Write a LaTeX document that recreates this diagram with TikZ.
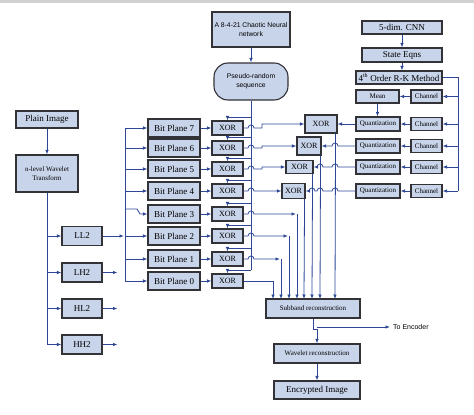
\documentclass[tikz,border=0pt]{standalone}
\usepackage{fontspec}
\setmainfont{Liberation Serif}
\newfontfamily\sansf{Liberation Sans}
\usetikzlibrary{arrows.meta}
\definecolor{boxfill}{RGB}{200,212,234}
\definecolor{lblue}{RGB}{45,70,150}
\definecolor{bord}{RGB}{50,50,55}
\begin{document}
\begin{tikzpicture}[x=1pt,y=-1pt,
  box/.style={draw=bord,line width=1.1pt,fill=boxfill,inner sep=0pt,align=center,font=\fontsize{9}{10}\selectfont},
  sm/.style={font=\fontsize{7}{8.5}\selectfont},
  xorf/.style={font=\fontsize{8}{9}\selectfont},
  sansbox/.style={font=\sansf\fontsize{6.8}{9}\selectfont},
  ln/.style={draw=lblue,line width=0.8pt},
  arr/.style={ln,-{Latex[length=4.5pt,width=3.5pt]}},
  hop/.style={}
]
\useasboundingbox (0,0) rectangle (474,415);
\fill[black!18] (0,0) rectangle (474,3);

% ---- chaotic network
\node[box,sansbox,minimum width=78pt,minimum height=35pt] (cnnet) at (251,29.5) {A 8-4-21 Chaotic Neural\\network};
\node[box,sansbox,rounded corners=14pt,minimum width=74pt,minimum height=37pt] (pr) at (251,81.5) {Pseudo-random\\sequence};
\draw[arr] (cnnet) -- (pr);
\draw[ln] (pr.south) -- (251,270);

% ---- right column
\node[box,minimum width=80pt,minimum height=13pt] (cnn) at (402,27.5) {5-dim. CNN};
\node[box,minimum width=80pt,minimum height=14pt] (st) at (402,55) {State Eqns};
\node[box,minimum width=86pt,minimum height=13pt] (rk) at (399,77.5) {4\textsuperscript{th} Order R-K Method};
\draw[arr] (cnn) -- (st);
\draw[arr] (st.south) -- (st.south |- rk.north);
\node[box,sm,minimum width=43pt,minimum height=13pt] (mean) at (377.5,96.5) {Mean};
\node[box,sm,minimum width=31pt,minimum height=13pt] (chm) at (426.5,96.5) {Channel};
\draw[arr] (chm) -- (mean);
\draw[ln] (rk.east) -- (458,77.5) -- (458,191);
\draw[arr] (458,96.5) -- (chm);
\foreach \i/\y in {7/124,6/146,5/167,4/191}{
  \node[box,sm,minimum width=44pt,minimum height=14pt] (q\i) at (378,\y) {Quantization};
  \node[box,sm,minimum width=31pt,minimum height=13pt] (c\i) at (426.5,\y) {Channel};
  \draw[arr] (c\i) -- (q\i);
  \draw[arr] (458,\y) -- (c\i);
}
\draw[arr] (mean.south) -- (mean.south |- q7.north);

% ---- second-level XORs
\node[box,xorf,minimum width=32pt,minimum height=18pt] (xa) at (321,124) {XOR};
\node[box,xorf,minimum width=24pt,minimum height=18pt] (xb) at (309,146) {XOR};
\node[box,xorf,minimum width=27pt,minimum height=13pt] (xc) at (299.5,167) {XOR};
\node[box,xorf,minimum width=23pt,minimum height=15pt] (xd) at (293.5,191) {XOR};
\draw[arr] (q7.west) -- (xa.east);
\draw[arr] (q6.west) -- (338,146) arc[start angle=0,end angle=180,radius=3pt] -- (xb.east);
\draw[arr] (q5.west) -- (338,167) arc[start angle=0,end angle=180,radius=3pt]
  -- (323,167) arc[start angle=0,end angle=180,radius=3pt] -- (xc.east);
\draw[arr] (q4.west) -- (338,191) arc[start angle=0,end angle=180,radius=3pt]
  -- (323,191) arc[start angle=0,end angle=180,radius=3pt]
  -- (315,191) arc[start angle=0,end angle=180,radius=3pt] -- (xd.east);

% ---- left column
\node[box,minimum width=62pt,minimum height=17pt] (pi) at (47,119.5) {Plain Image};
\node[box,sm,minimum width=62pt,minimum height=37pt] (wt) at (47,173.5) {n-level Wavelet\\Transform};
\draw[arr] (pi) -- (wt);
\draw[ln] (wt.south) -- (47,344.5);
\foreach \n/\t/\y in {ll/LL2/236,lh/LH2/272.5,hl/HL2/308.5,hh/HH2/344.5}{
  \node[box,minimum width=40pt,minimum height=19pt] (\n) at (82,\y) {\t};
  \draw[arr] (47,\y) -- (\n.west);
}
\foreach \n in {lh,hl,hh}{\draw[arr] (\n.east) -- ++(15,0);}
\draw[arr] (ll.east) -- (124,236);
\draw[ln] (125,128) -- (125,281);

% ---- bit planes and first-level XORs
\foreach \i/\y in {7/128,6/148,5/169,4/191,3/214,2/236,1/259,0/281}{
  \node[box,minimum width=52pt,minimum height=18pt] (bp\i) at (174,\y) {Bit Plane \i};
  \node[box,xorf,minimum width=31pt,minimum height=14pt] (x\i) at (227.5,\y) {XOR};
  \draw[arr] (bp\i) -- (x\i);
  \draw[arr] (251,\y-11) -- (227.5,\y-11) -- (x\i.north);
}
\foreach \i/\y in {7/128,6/148,5/169,4/191,2/236,1/259,0/281}{
  \draw[arr] (125,\y) -- (bp\i.west);
}
\draw[arr] (125,209) -- (137,209) -- (140,214) -- (bp3.west);

% ---- outputs of first-level XORs
\draw[arr] (x7.east) -- (248,128) arc[start angle=180,end angle=0,radius=3pt] -- (262,128) -- (262,124) -- (xa.west);
\draw[arr] (x6.east) -- (248,148) arc[start angle=180,end angle=0,radius=3pt] -- (262,148) -- (262,146) -- (xb.west);
\draw[arr] (x5.east) -- (248,169) arc[start angle=180,end angle=0,radius=3pt] -- (262,169) -- (262,167) -- (xc.west);
\draw[arr] (x4.east) -- (248,191) arc[start angle=180,end angle=0,radius=3pt] -- (xd.west);

% ---- subband reconstruction
\node[box,sm,minimum width=94pt,minimum height=19pt] (sb) at (313,308.5) {Subband reconstruction};
\draw[arr] (x3.east) -- (248,214) arc[start angle=180,end angle=0,radius=3pt] -- (296,214);
\draw[arr] (297,214) -- (297,299);
\draw[arr] (x2.east) -- (248,236) arc[start angle=180,end angle=0,radius=3pt] -- (288,236);
\draw[arr] (289,236) -- (289,299);
\draw[arr] (x1.east) -- (248,259) arc[start angle=180,end angle=0,radius=3pt] -- (280,259);
\draw[arr] (281,259) -- (281,299);
\draw[arr] (x0.east) -- (273,281) -- (273,299);
\draw[arr] ([xshift=-2pt]xa.south east) -- (335,299);
\draw[arr] ([xshift=-1pt]xb.south east) -- (320,299);
\draw[arr] ([xshift=-1pt]xc.south east) -- (312,299);
\draw[arr] ([xshift=-1pt]xd.south east) -- (304,299);

\node[box,sm,minimum width=86pt,minimum height=19pt] (wr) at (317,353.5) {Wavelet reconstruction};
\node[box,minimum width=86pt,minimum height=18pt] (ei) at (317,390) {Encrypted Image};
\draw[arr] (sb.south) -- (313,329) -| (wr.north);
\coordinate (sp) at (317,327);
\node[font=\sansf\fontsize{7}{8}\selectfont,inner sep=3pt,anchor=west] (enc) at (390,327) {To Encoder};
\draw[arr] (sp) -- (enc.west);
\draw[arr] (wr) -- (ei);
\end{tikzpicture}
\end{document}
